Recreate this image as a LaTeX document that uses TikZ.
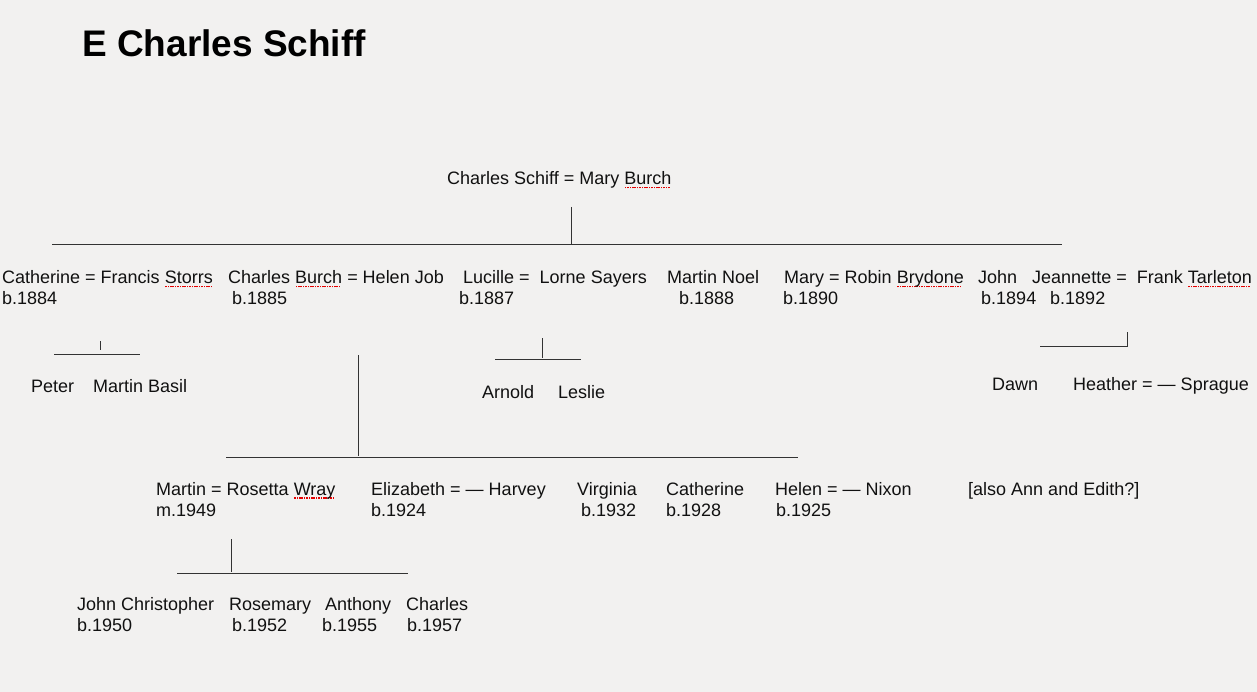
\documentclass[tikz,border=0pt]{standalone}
\usepackage{fontspec}
\setmainfont{Liberation Sans}
\newsavebox\splbox
\newcommand{\spl}[1]{\sbox\splbox{#1}\rlap{\raisebox{-3.5pt}{\textcolor{red!90!black}{\leaders\hbox to 2.4pt{\hss\rule{1.6pt}{1.6pt}\hss}\hskip\wd\splbox}}}\usebox\splbox}
\definecolor{bgc}{HTML}{F2F1F0}
\definecolor{ink}{HTML}{111111}
\tikzset{
  lbl/.style={anchor=base west, inner sep=0pt, font=\fontsize{18}{22}\selectfont, text=ink},
  bar/.style={draw=black!80, line width=0.9pt},
}
\begin{document}
\begin{tikzpicture}[x=1pt,y=-1pt]
\fill[bgc] (0,0) rectangle (1257,692);
\useasboundingbox (0,0) rectangle (1257,692);
% title
\node[anchor=base west, inner sep=0pt, font=\fontsize{37}{40}\selectfont\bfseries, text=black] (title) at (82,57) {E Charles Schiff};
% root
\node[lbl] (root) at (447,185) {Charles Schiff = Mary \spl{Burch}};
% generation 1
\node[lbl] (cath) at (2,284) {Catherine = Francis \spl{Storrs}};
\node[lbl] (cathb) at (2,305) {b.1884};
\node[lbl] (chb) at (228,284) {Charles \spl{Burch} = Helen Job};
\node[lbl] (chbb) at (232,305) {b.1885};
\node[lbl] (luc) at (463,284) {Lucille =\ \ Lorne Sayers};
\node[lbl] (lucb) at (459,305) {b.1887};
\node[lbl] (mn) at (667,284) {Martin Noel};
\node[lbl] (mnb) at (679,305) {b.1888};
\node[lbl] (mary) at (784,284) {Mary = Robin \spl{Brydone}};
\node[lbl] (maryb) at (783,305) {b.1890};
\node[lbl] (john) at (978,284) {John};
\node[lbl] (johnb) at (981,305) {b.1894};
\node[lbl] (jean) at (1032,284) {Jeannette =\ \ Frank \spl{Tarleton}};
\node[lbl] (jeanb) at (1050,305) {b.1892};
% generation 2 (small families)
\node[lbl] (peter) at (31,392) {Peter};
\node[lbl] (mb) at (93,392) {Martin Basil};
\node[lbl] (arnold) at (482,398) {Arnold};
\node[lbl] (leslie) at (558,398) {Leslie};
\node[lbl] (dawn) at (992,390) {Dawn};
\node[lbl] (heather) at (1073,390) {Heather = — Sprague};
% generation 2 (Charles Burch)
\node[lbl] (martin) at (156,495) {Martin = Rosetta \spl{Wray}};
\node[lbl] (martinb) at (156,516) {m.1949};
\node[lbl] (eliz) at (371,495) {Elizabeth = — Harvey};
\node[lbl] (elizb) at (371,516) {b.1924};
\node[lbl] (virg) at (577,495) {Virginia};
\node[lbl] (virgb) at (581,516) {b.1932};
\node[lbl] (cath2) at (666,495) {Catherine};
\node[lbl] (cath2b) at (666,516) {b.1928};
\node[lbl] (helen) at (775,495) {Helen = — Nixon};
\node[lbl] (helenb) at (776,516) {b.1925};
\node[lbl] (also) at (968,495) {[also Ann and Edith?]};
% generation 3
\node[lbl] (jc) at (77,610) {John Christopher};
\node[lbl] (jcb) at (77,631) {b.1950};
\node[lbl] (rose) at (229,610) {Rosemary};
\node[lbl] (roseb) at (232,631) {b.1952};
\node[lbl] (ant) at (325,610) {Anthony};
\node[lbl] (antb) at (322,631) {b.1955};
\node[lbl] (chs) at (406,610) {Charles};
\node[lbl] (chsb) at (407,631) {b.1957};
% connector coordinates
\coordinate (r1) at (571,207); \coordinate (r2) at (571,244);
\coordinate (h1a) at (52,244); \coordinate (h1b) at (1062,244);
\coordinate (c1) at (100,341); \coordinate (c2) at (100,350);
\coordinate (ch1) at (54,354); \coordinate (ch2) at (140,354);
\coordinate (b1) at (358,355); \coordinate (b2) at (358,456);
\coordinate (bh1) at (226,457); \coordinate (bh2) at (798,457);
\coordinate (l1) at (542,338); \coordinate (l2) at (542,358);
\coordinate (lh1) at (495,359); \coordinate (lh2) at (581,359);
\coordinate (j1) at (1127,332); \coordinate (j2) at (1127,346);
\coordinate (jh1) at (1040,346);
\coordinate (m1) at (231,539); \coordinate (m2) at (231,572);
\coordinate (mh1) at (177,573); \coordinate (mh2) at (408,573);
% connectors
\draw[bar] (r1) -- (r2);
\draw[bar] (h1a) -- (h1b);
\draw[bar] (c1) -- (c2);
\draw[bar] (ch1) -- (ch2);
\draw[bar] (b1) -- (b2);
\draw[bar] (bh1) -- (bh2);
\draw[bar] (l1) -- (l2);
\draw[bar] (lh1) -- (lh2);
\draw[bar] (jh1) -- (j2) -- (j1);
\draw[bar] (m1) -- (m2);
\draw[bar] (mh1) -- (mh2);
\end{tikzpicture}
\end{document}
